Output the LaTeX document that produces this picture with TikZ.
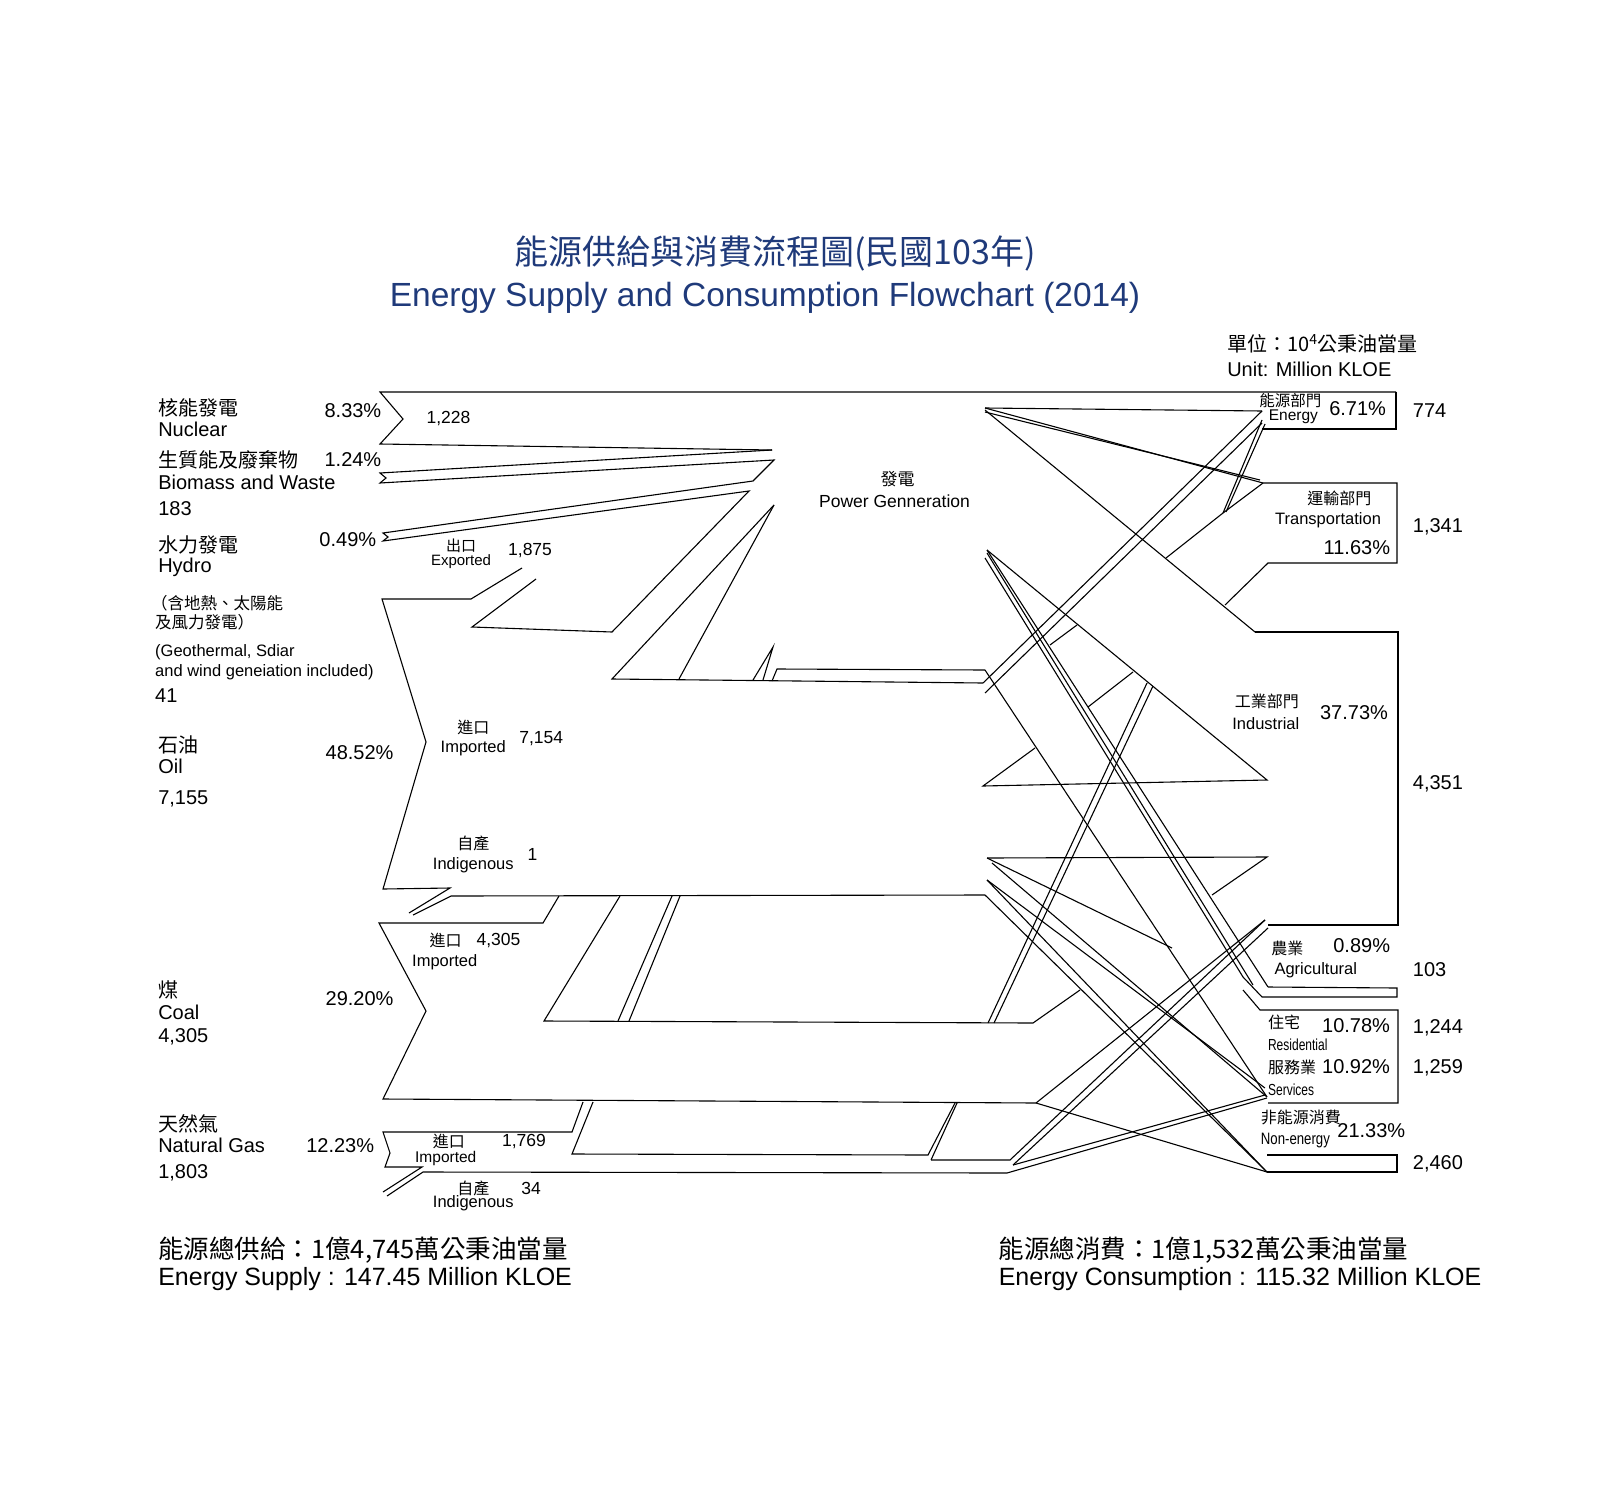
\documentclass[tikz,border=0pt]{standalone}
\usepackage{fontspec}
\setmainfont{Liberation Sans}
\newfontfamily\cjk{Noto Sans CJK TC}
\definecolor{tblue}{HTML}{1F3A7A}
\begin{document}
\begin{tikzpicture}[x=1pt,y=-1pt,ln/.style={line width=1.1pt,line join=miter},
 lb/.style={anchor=west,inner sep=0pt,font=\fontsize{20}{20}\selectfont}]
\useasboundingbox (0,0) rectangle (1600,1493);
% ---------- left fuels to power generation ----------
\draw[ln] (1396,392) -- (380,392) -- (403,419) -- (380,444) -- (772,450);
\draw[ln] (772,450) -- (380,473) -- (386,478) -- (380,483) -- (774,460) -- (753,481) -- (383,533) -- (388,537) -- (383,541) -- (749,491) -- (612,632) -- (472,627) -- (536,579);
\draw[ln] (522,568) -- (471,599) -- (382,599) -- (426,742) -- (383,889) -- (450,888) -- (409,913);
\draw[ln] (413,915) -- (451,896) -- (985,895);
\draw[ln] (774,505) -- (612,679) -- (983,683);
\draw[ln] (774,505) -- (679,679);
\draw[ln] (753,680) -- (773,647) -- (763,680);
\draw[ln] (772,681) -- (777,669) -- (985,670);
% coal
\draw[ln] (559,896) -- (543,923) -- (379,923) -- (426,1011) -- (383,1099) -- (1036,1103);
\draw[ln] (620,896) -- (544,1021) -- (1033,1023) -- (1080,990);
\draw[ln] (672,896) -- (618,1021);
\draw[ln] (680,896) -- (629,1021);
\draw[ln] (985,895) -- (1267,1172);
\draw[ln] (1036,1103) -- (1267,1172);
\draw[ln] (1036,1103) -- (1265,920);
% gas
\draw[ln] (583,1102) -- (572,1132) -- (383,1132) -- (390,1153) -- (385,1167) -- (422,1167) -- (383,1192);
\draw[ln] (387,1196) -- (423,1172) -- (1007,1173) -- (1267,1098);
\draw[ln] (593,1102) -- (572,1154) -- (928,1155) -- (955,1103);
\draw[ln] (931,1160) -- (957,1103);
\draw[ln] (931,1160) -- (1010,1160) -- (1265,920);
\draw[ln] (1013,1165) -- (1268,928);
\draw[ln] (1013,1165) -- (1265,1095);
% ---------- power generation outputs ----------
\draw[ln] (985,408) -- (1262,411);
\draw[ln] (985,408) -- (1263,483);
\draw[ln] (985,412) -- (1260,480);
\draw[ln] (985,410) -- (1255,632);
\draw[ln] (1396,392) -- (1396,429) -- (1262,429);
\draw[ln] (1262,411) -- (983,683);
\draw[ln] (1262,423) -- (985,693);
\draw[ln] (1262,420) -- (1223,513);
\draw[ln] (1265,424) -- (1226,512);
\draw[ln] (1263,483) -- (1223,513) -- (1166,558);
\draw[ln] (1263,483) -- (1397,483) -- (1397,563) -- (1268,563) -- (1225,605);
\draw[ln] (1255,632) -- (1398,632) -- (1398,925) -- (1268,925);
\draw[ln] (985,670) -- (1267,1097);
\draw[ln] (987,550) -- (1267,780) -- (983,786) -- (1035,748);
\draw[ln] (1088,707) -- (1133,672);
\draw[ln] (1050,645) -- (1077,625);
\draw[ln] (987,550) -- (1268,987);
\draw[ln] (987,553) -- (1253,985);
\draw[ln] (985,558) -- (1243,977) -- (1262,997);
\draw[ln] (1147,683) -- (988,1023);
\draw[ln] (1153,686) -- (994,1023);
% coal / oil to industry, residential, services
\draw[ln] (987,858) -- (1267,857) -- (1212,895);
\draw[ln] (987,858) -- (1172,948);
\draw[ln] (992,863) -- (1267,1097);
\draw[ln] (987,880) -- (1265,1088);
\draw[ln] (987,880) -- (1265,1170);
% consumer boxes
\draw[ln] (1268,987) -- (1397,988) -- (1397,997) -- (1262,997);
\draw[ln] (1243,990) -- (1260,1010) -- (1398,1010) -- (1398,1103) -- (1268,1103);
\draw[ln] (1267,1155) -- (1397,1155) -- (1397,1172) -- (1267,1172);
% ---------- texts ----------
\begin{scope}[x=1.02pt,y=-1.02pt]
\node[inner sep=0pt,text=tblue,font=\cjk\fontsize{34}{34}\selectfont] (title1) at (760,249) {能源供給與消費流程圖(民國103年)};
\node[inner sep=0pt,text=tblue,font=\fontsize{33.5}{34}\selectfont] (title2) at (750,292) {Energy Supply and Consumption Flowchart (2014)};
\node[lb,font=\cjk\fontsize{20}{20}\selectfont] (u1) at (1203,337) {單位：10\textsuperscript{4}公秉油當量};
\node[lb] (u2) at (1203,362) {Unit: Million KLOE};
% left
\node[lb,font=\cjk\fontsize{20}{20}\selectfont] (n1) at (155,400) {核能發電};
\node[lb] (n2) at (155,421) {Nuclear};
\node[lb,anchor=east] (n3) at (374,403) {8.33\%};
\node[lb,font=\cjk\fontsize{20}{20}\selectfont] (b1) at (155,451) {生質能及廢棄物};
\node[lb,anchor=east] (b4) at (374,451) {1.24\%};
\node[lb] (b2) at (155,473) {Biomass and Waste};
\node[lb] (b3) at (155,499) {183};
\node[lb,font=\cjk\fontsize{20}{20}\selectfont] (h1) at (155,534) {水力發電};
\node[lb] (h2) at (155,556) {Hydro};
\node[lb,anchor=east] (h3) at (369,529) {0.49\%};
\node[lb,font=\cjk\fontsize{16.5}{16}\selectfont] (g1) at (148,591) {（含地熱、太陽能};
\node[lb,font=\cjk\fontsize{16.5}{16}\selectfont] (g2) at (152,610) {及風力發電）};
\node[lb,font=\fontsize{16.5}{16}\selectfont] (g3) at (152,639) {(Geothermal, Sdiar};
\node[lb,font=\fontsize{16.5}{16}\selectfont] (g4) at (152,659) {and wind geneiation included)};
\node[lb] (g5) at (152,682) {41};
\node[lb,font=\cjk\fontsize{20}{20}\selectfont] (o1) at (155,730) {石油};
\node[lb] (o2) at (155,751) {Oil};
\node[lb] (o3) at (155,783) {7,155};
\node[lb,anchor=east] (o4) at (386,738) {48.52\%};
\node[lb,font=\cjk\fontsize{20}{20}\selectfont] (c1) at (155,970) {煤};
\node[lb] (c2) at (155,992) {Coal};
\node[lb] (c3) at (155,1016) {4,305};
\node[lb,anchor=east] (c4) at (386,979) {29.20\%};
\node[lb,font=\cjk\fontsize{20}{20}\selectfont] (ng1) at (155,1102) {天然氣};
\node[lb] (ng2) at (155,1123) {Natural Gas};
\node[lb] (ng3) at (155,1150) {1,803};
\node[lb,anchor=east] (ng4) at (367,1123) {12.23\%};
% inner
\node[lb,font=\fontsize{17.5}{17}\selectfont] (i1) at (418,410) {1,228};
\node[inner sep=0pt,font=\cjk\fontsize{17}{17}\selectfont] (pg1) at (880,470) {發電};
\node[inner sep=0pt,font=\fontsize{17.5}{17}\selectfont] (pg2) at (877,491) {Power Genneration};
\node[inner sep=0pt,font=\cjk\fontsize{15}{15}\selectfont] (e1) at (452,535) {出口};
\node[inner sep=0pt,font=\fontsize{15}{15}\selectfont] (e2) at (452,551) {Exported};
\node[lb,font=\fontsize{17.5}{17}\selectfont] (e3) at (498,540) {1,875};
\node[inner sep=0pt,font=\cjk\fontsize{16}{16}\selectfont] (im1) at (464,713) {進口};
\node[inner sep=0pt,font=\fontsize{16.5}{16}\selectfont] (im2) at (464,734) {Imported};
\node[lb,font=\fontsize{17.5}{17}\selectfont] (im3) at (509,724) {7,154};
\node[inner sep=0pt,font=\cjk\fontsize{16}{16}\selectfont] (id1) at (464,827) {自產};
\node[inner sep=0pt,font=\fontsize{16.5}{16}\selectfont] (id2) at (464,848) {Indigenous};
\node[lb,font=\fontsize{17.5}{17}\selectfont] (id3) at (517,838) {1};
\node[inner sep=0pt,font=\cjk\fontsize{16}{16}\selectfont] (ci1) at (437,922) {進口};
\node[lb,font=\fontsize{17.5}{17}\selectfont] (ci3) at (467,922) {4,305};
\node[inner sep=0pt,font=\fontsize{16.5}{16}\selectfont] (ci2) at (436,943) {Imported};
\node[inner sep=0pt,font=\cjk\fontsize{16}{16}\selectfont] (gi1) at (440,1119) {進口};
\node[inner sep=0pt,font=\fontsize{15.5}{15}\selectfont] (gi2) at (437,1136) {Imported};
\node[lb,font=\fontsize{17.5}{17}\selectfont] (gi3) at (492,1119) {1,769};
\node[inner sep=0pt,font=\cjk\fontsize{16}{16}\selectfont] (gd1) at (464,1165) {自產};
\node[inner sep=0pt,font=\fontsize{16.5}{16}\selectfont] (gd2) at (464,1180) {Indigenous};
\node[lb,font=\fontsize{17.5}{17}\selectfont] (gd3) at (511,1165) {34};
% right
\node[inner sep=0pt,font=\cjk\fontsize{15.5}{15}\selectfont] (r1) at (1265,393) {能源部門};
\node[inner sep=0pt,font=\fontsize{15.5}{15}\selectfont] (r2) at (1268,409) {Energy};
\node[lb] (r3) at (1303,401) {6.71\%};
\node[lb] (r4) at (1385,403) {774};
\node[inner sep=0pt,font=\cjk\fontsize{16}{16}\selectfont] (t1) at (1313,489) {運輸部門};
\node[inner sep=0pt,font=\fontsize{16.5}{16}\selectfont] (t2) at (1302,510) {Transportation};
\node[lb,anchor=east] (t3) at (1363,537) {11.63\%};
\node[lb] (t4) at (1385,516) {1,341};
\node[inner sep=0pt,font=\cjk\fontsize{16}{16}\selectfont] (in1) at (1242,688) {工業部門};
\node[inner sep=0pt,font=\fontsize{16.5}{16}\selectfont] (in2) at (1241,709) {Industrial};
\node[lb] (in3) at (1294,699) {37.73\%};
\node[lb] (in4) at (1385,768) {4,351};
\node[inner sep=0pt,font=\cjk\fontsize{16}{16}\selectfont] (a1) at (1262,930) {農業};
\node[lb] (a3) at (1307,927) {0.89\%};
\node[inner sep=0pt,font=\fontsize{16.5}{16}\selectfont] (a2) at (1290,951) {Agricultural};
\node[lb] (a4) at (1385,951) {103};
\node[lb,font=\cjk\fontsize{16}{16}\selectfont] (re1) at (1243,1002) {住宅};
\node[lb] (re3) at (1296,1005) {10.78\%};
\node[lb,font=\fontsize{16}{15}\selectfont] (re2) at (1243,1024) {\addfontfeature{FakeStretch=0.75}Residential};
\node[lb,font=\cjk\fontsize{16}{16}\selectfont] (s1) at (1243,1046) {服務業};
\node[lb] (s3) at (1296,1046) {10.92\%};
\node[lb,font=\fontsize{16}{15}\selectfont] (s2) at (1243,1068) {\addfontfeature{FakeStretch=0.75}Services};
\node[lb] (re4) at (1385,1008) {1,244};
\node[lb] (s4) at (1385,1047) {1,259};
\node[lb,font=\cjk\fontsize{16}{16}\selectfont] (ne1) at (1236,1096) {非能源消費};
\node[lb,font=\fontsize{16.5}{16}\selectfont] (ne2) at (1236,1118) {\addfontfeature{FakeStretch=0.8}Non-energy};
\node[lb] (ne3) at (1311,1108) {21.33\%};
\node[lb] (ne4) at (1385,1141) {2,460};
% bottom
\node[lb,font=\cjk\fontsize{25.5}{25}\selectfont] (bs1) at (155,1226) {能源總供給：1億4,745萬公秉油當量};
\node[lb,font=\fontsize{25}{25}\selectfont] (bs2) at (155,1254) {Energy Supply : 147.45 Million KLOE};
\node[lb,font=\cjk\fontsize{25.5}{25}\selectfont] (bc1) at (979,1226) {能源總消費：1億1,532萬公秉油當量};
\node[lb,font=\fontsize{25}{25}\selectfont] (bc2) at (979,1254) {Energy Consumption : 115.32 Million KLOE};
\end{scope}
\end{tikzpicture}
\end{document}
